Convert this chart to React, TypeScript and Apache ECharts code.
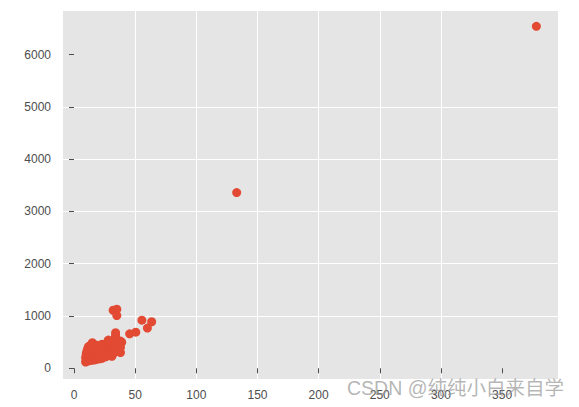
import React, { useEffect, useRef } from "react";
import * as echarts from "echarts";

const xValues: number[] = [
  9.5, 10, 11, 12, 13, 14, 15, 17, 19, 21, 23,
  9.5, 10, 10, 10.5, 11, 11.5, 12,
  12, 13, 14, 13, 14, 15, 16, 15, 14,
  16, 17, 18, 16, 18, 17, 19,
  19, 20, 21, 20, 22, 21, 23,
  22, 24, 25, 24, 26, 25, 27, 28,
  26, 27, 28, 29, 30, 29, 31, 30,
  29, 31, 32, 33, 32, 34, 35, 33, 34, 34, 36, 37,
  31, 33, 35, 36, 38, 39, 38, 38,
  32, 35, 35, 45.5, 50.5, 55.5, 60, 63.5, 133, 378,
];

const yValues: number[] = [
  120, 150, 135, 160, 145, 170, 155, 160, 175, 180, 190,
  200, 240, 280, 320, 360, 390, 420,
  220, 260, 300, 340, 380, 420, 460, 490, 450,
  220, 260, 300, 340, 380, 410, 440,
  230, 270, 310, 350, 390, 420, 460,
  240, 280, 320, 360, 400, 440, 480, 540,
  220, 260, 300, 340, 380, 420, 460, 500,
  250, 280, 330, 370, 410, 450, 500, 560, 620, 680, 520, 480,
  230, 300, 400, 440, 520, 500, 400, 300,
  1110, 1130, 1010, 660, 690, 920, 770, 890, 3360, 6540,
];

const xTicks: number[] = [0, 50, 100, 150, 200, 250, 300, 350];
const yTicks: number[] = [0, 1000, 2000, 3000, 4000, 5000, 6000];

const watermark = "CSDN @纯纯小白来自学";

export default function App() {
  const ref = useRef<HTMLDivElement>(null);
  useEffect(() => {
    if (!ref.current) return;
    const chart = echarts.init(ref.current, undefined, { renderer: "svg" });
    const points = xValues.map((x, i) => [x, yValues[i]]);
    const labelStyle = {
      color: "#4d4d4d",
      fontSize: 12,
      fontFamily: "'Liberation Sans', Arial, sans-serif",
      formatter: (v: number) => String(v),
    };
    chart.setOption({
      animation: false,
      backgroundColor: "#ffffff",
      grid: {
        left: 63,
        top: 11,
        width: 495,
        height: 368,
        show: true,
        backgroundColor: "#E5E5E5",
        borderWidth: 0,
      },
      xAxis: {
        type: "value",
        min: -9,
        max: 395.7,
        splitNumber: 8,
        axisLine: { show: false },
        axisTick: {
          show: true,
          length: 5,
          customValues: xTicks,
          lineStyle: { color: "#4d4d4d", width: 1 },
        },
        axisLabel: { ...labelStyle, margin: 10, customValues: xTicks },
        splitLine: {
          show: true,
          showMinLine: false,
          showMaxLine: false,
          lineStyle: { color: "#ffffff", width: 1 },
        },
      },
      yAxis: {
        type: "value",
        min: -205,
        max: 6834,
        splitNumber: 7,
        axisLine: { show: false },
        axisTick: {
          show: true,
          length: 5,
          customValues: yTicks,
          lineStyle: { color: "#4d4d4d", width: 1 },
        },
        axisLabel: { ...labelStyle, margin: 12, customValues: yTicks },
        splitLine: {
          show: true,
          showMinLine: false,
          showMaxLine: false,
          lineStyle: { color: "#ffffff", width: 1 },
        },
      },
      series: [
        {
          type: "scatter",
          data: points,
          symbolSize: 9,
          itemStyle: { color: "#E24A33", opacity: 1 },
        },
      ],
      graphic: [
        {
          type: "text",
          left: 347,
          top: 378,
          z: 100,
          style: {
            text: watermark,
            fill: "rgba(150,150,150,0.7)",
            fontSize: 19.5,
            fontFamily: "'Liberation Sans', 'Noto Sans CJK SC', sans-serif",
          },
        },
      ],
    });
    return () => chart.dispose();
  }, []);
  return (
    <div
      ref={ref}
      style={{ position: "absolute", left: 0, top: 0, width: 579, height: 407 }}
    />
  );
}
